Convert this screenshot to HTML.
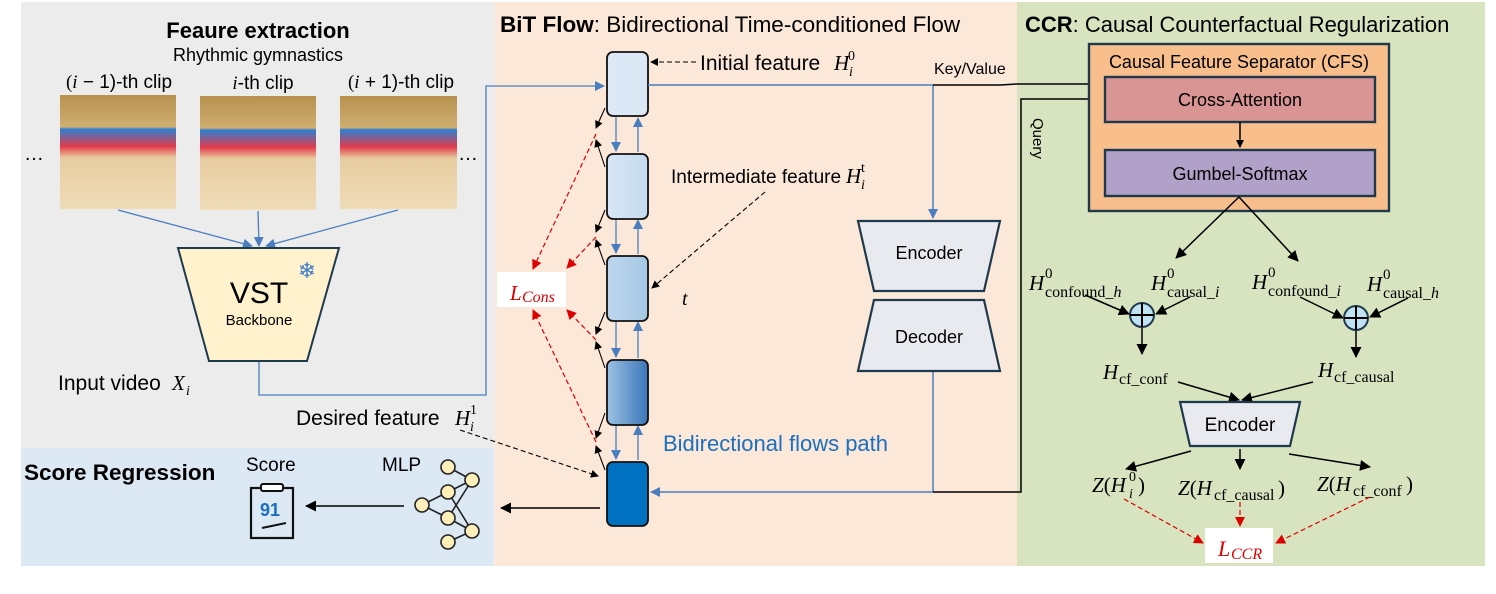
<!DOCTYPE html>
<html><head><meta charset="utf-8"><style>
body{margin:0;background:#fff;width:1496px;height:594px;overflow:hidden}
svg{display:block;font-family:"Liberation Sans",sans-serif}
.m{font-family:"Liberation Serif",serif;font-style:italic}
.s{font-family:"Liberation Serif",serif}
</style></head><body>
<svg width="1496" height="594" viewBox="0 0 1496 594">
<defs>
<marker id="ab" markerWidth="8" markerHeight="8" refX="7" refY="4" orient="auto" markerUnits="userSpaceOnUse"><path d="M0,0L8,4L0,8z" fill="#000"/></marker>
<marker id="abl" markerWidth="10" markerHeight="10" refX="9" refY="5" orient="auto" markerUnits="userSpaceOnUse"><path d="M0,0L10,5L0,10z" fill="#4a7ebf"/></marker>
<marker id="ar" markerWidth="10" markerHeight="10" refX="9" refY="5" orient="auto" markerUnits="userSpaceOnUse"><path d="M0,0L10,5L0,10z" fill="#d00"/></marker>
<marker id="ak" markerWidth="11" markerHeight="11" refX="10" refY="5.5" orient="auto" markerUnits="userSpaceOnUse"><path d="M0,0L11,5.5L0,11z" fill="#000"/></marker>
<linearGradient id="g1"><stop offset="0" stop-color="#dde9f6"/><stop offset="1" stop-color="#dbe7f4"/></linearGradient>
<linearGradient id="g2"><stop offset="0" stop-color="#d8e6f4"/><stop offset="1" stop-color="#c5daef"/></linearGradient>
<linearGradient id="g3"><stop offset="0" stop-color="#bdd6ee"/><stop offset="1" stop-color="#a6c8e6"/></linearGradient>
<linearGradient id="g4"><stop offset="0" stop-color="#9dc1e4"/><stop offset="1" stop-color="#3a76b8"/></linearGradient>
<linearGradient id="img" x1="0" y1="0" x2="0" y2="1"><stop offset="0" stop-color="#b8914e"/><stop offset=".28" stop-color="#cfae70"/><stop offset=".3" stop-color="#2e7fd0"/><stop offset=".45" stop-color="#e23a4a"/><stop offset=".55" stop-color="#e8cca0"/><stop offset="1" stop-color="#efdcb8"/></linearGradient>
</defs>
<rect x="21" y="2" width="474" height="564" fill="#ececec"/>
<rect x="21" y="448" width="472" height="118" fill="#dce8f4"/>
<rect x="495" y="2" width="522" height="564" fill="#fce8d8"/>
<rect x="1017" y="2" width="468" height="564" fill="#d8e4bf"/>
<!-- feature extraction -->
<text x="258" y="38" font-size="22" font-weight="bold" text-anchor="middle">Feaure extraction</text>
<text x="258" y="61" font-size="18" text-anchor="middle">Rhythmic gymnastics</text>
<text x="119" y="88" font-size="19" text-anchor="middle"><tspan class="s">(</tspan><tspan class="m">i</tspan> − 1)-th clip</text>
<text x="263" y="89" font-size="19" text-anchor="middle"><tspan class="m">i</tspan>-th clip</text>
<text x="401" y="88" font-size="19" text-anchor="middle"><tspan class="s">(</tspan><tspan class="m">i</tspan> + 1)-th clip</text>
<rect x="60" y="95" width="116" height="114" fill="url(#img)"/>
<rect x="200" y="96" width="116" height="114" fill="url(#img)"/>
<rect x="340" y="96" width="117" height="113" fill="url(#img)"/>
<text x="24" y="160" font-size="20">…</text>
<text x="458" y="160" font-size="20">…</text>
<g stroke="#4a7ebf" stroke-width="1.3" fill="none">
<line x1="118" y1="210" x2="252" y2="246" marker-end="url(#abl)"/>
<line x1="258" y1="211" x2="259" y2="246" marker-end="url(#abl)"/>
<line x1="398" y1="210" x2="266" y2="246" marker-end="url(#abl)"/>
<polyline points="259,362 259,395 486,395 486,86 604,86" marker-end="url(#abl)"/>
</g>
<polygon points="178,248 339,248 307,361 209,361" fill="#fff2cc" stroke="#1f3a4d" stroke-width="2"/>
<text x="259" y="303" font-size="30" text-anchor="middle">VST</text>
<text x="259" y="325" font-size="15" text-anchor="middle">Backbone</text>
<text x="307" y="278" font-size="22" fill="#3d7cc9" text-anchor="middle">❄</text>
<text x="58" y="390" font-size="21">Input video</text><text x="172" y="390" font-size="21" class="m">X</text><text x="186" y="395" font-size="14" class="m">i</text>
<text x="296" y="425" font-size="21">Desired feature</text><text x="455" y="425" font-size="21" class="m">H</text><text x="470" y="431" font-size="14" class="m">i</text><text x="470" y="414" font-size="14" class="s">1</text>
<!-- score regression -->
<text x="24" y="480" font-size="22.5" font-weight="bold">Score Regression</text>
<text x="246" y="471" font-size="19">Score</text>
<text x="382" y="471" font-size="19">MLP</text>
<rect x="251" y="488" width="42" height="50" fill="none" stroke="#111" stroke-width="2.2"/>
<rect x="261" y="484" width="22" height="7" rx="2" fill="#fff" stroke="#111" stroke-width="2"/>
<text x="270" y="516" font-size="18" font-weight="bold" fill="#1a6fc0" text-anchor="middle">91</text>
<line x1="262" y1="528" x2="286" y2="523" stroke="#111" stroke-width="2"/>
<line x1="404" y1="506" x2="306" y2="506" stroke="#000" stroke-width="1.5" marker-end="url(#ak)"/>
<g stroke="#222" stroke-width="1.6" fill="#fdeeba">
<line x1="448" y1="467" x2="472" y2="480"/><line x1="448" y1="492" x2="472" y2="480"/><line x1="448" y1="492" x2="472" y2="531"/><line x1="448" y1="518" x2="472" y2="480"/><line x1="448" y1="518" x2="472" y2="531"/><line x1="422" y1="505" x2="448" y2="492"/><line x1="422" y1="505" x2="448" y2="518"/><line x1="448" y1="542" x2="472" y2="531"/>
<circle cx="448" cy="467" r="7"/><circle cx="472" cy="480" r="7"/><circle cx="448" cy="492" r="7"/><circle cx="422" cy="505" r="7"/><circle cx="448" cy="518" r="7"/><circle cx="472" cy="531" r="7"/><circle cx="448" cy="542" r="7"/>
</g>
<!-- BiT flow -->
<text x="500" y="32" font-size="22.5"><tspan font-weight="bold">BiT Flow</tspan>: Bidirectional Time-conditioned Flow</text>
<g stroke="#4a7ebf" stroke-width="1.3">
<line x1="616" y1="117" x2="616" y2="151" marker-end="url(#abl)"/><line x1="638" y1="152" x2="638" y2="118" marker-end="url(#abl)"/>
<line x1="616" y1="219" x2="616" y2="253" marker-end="url(#abl)"/><line x1="638" y1="254" x2="638" y2="220" marker-end="url(#abl)"/>
<line x1="616" y1="321" x2="616" y2="357" marker-end="url(#abl)"/><line x1="638" y1="358" x2="638" y2="322" marker-end="url(#abl)"/>
<line x1="616" y1="425" x2="616" y2="459" marker-end="url(#abl)"/><line x1="638" y1="460" x2="638" y2="426" marker-end="url(#abl)"/>
</g>
<g stroke="#111" stroke-width="1.8">
<rect x="607" y="52" width="41" height="64" rx="6" fill="url(#g1)"/>
<rect x="607" y="154" width="41" height="65" rx="6" fill="url(#g2)"/>
<rect x="607" y="256" width="41" height="65" rx="6" fill="url(#g3)"/>
<rect x="607" y="360" width="41" height="65" rx="6" fill="url(#g4)"/>
<rect x="607" y="462" width="41" height="64" rx="6" fill="#0070c0"/>
</g>
<g stroke="#000" stroke-width="1.1" fill="none">
<line x1="605" y1="108" x2="596" y2="128" marker-end="url(#ab)"/><line x1="605" y1="167" x2="596" y2="140" marker-end="url(#ab)"/>
<line x1="605" y1="210" x2="596" y2="232" marker-end="url(#ab)"/><line x1="605" y1="265" x2="596" y2="240" marker-end="url(#ab)"/>
<line x1="605" y1="312" x2="596" y2="334" marker-end="url(#ab)"/><line x1="605" y1="368" x2="596" y2="342" marker-end="url(#ab)"/>
<line x1="605" y1="413" x2="596" y2="438" marker-end="url(#ab)"/><line x1="605" y1="470" x2="596" y2="446" marker-end="url(#ab)"/>
</g>
<g stroke="#d00" stroke-width="1.2" stroke-dasharray="5,3" fill="none">
<line x1="596" y1="134" x2="533" y2="269" marker-end="url(#ar)"/><line x1="596" y1="237" x2="567" y2="268" marker-end="url(#ar)"/>
<line x1="596" y1="340" x2="567" y2="310" marker-end="url(#ar)"/><line x1="596" y1="442" x2="533" y2="310" marker-end="url(#ar)"/>
</g>
<rect x="497" y="272" width="69" height="35" fill="#fff"/>
<text x="510" y="300" font-size="21" fill="#d00" class="m">L</text><text x="522" y="302" font-size="16" fill="#d00" class="m">Cons</text>
<g stroke="#000" stroke-width="1.1" stroke-dasharray="5,3" fill="none">
<line x1="696" y1="62" x2="651" y2="62" marker-end="url(#ab)"/>
<line x1="765" y1="192" x2="652" y2="288" marker-end="url(#ab)"/>
<line x1="460" y1="430" x2="598" y2="476" marker-end="url(#ab)"/>
</g>
<text x="700" y="70" font-size="21">Initial feature</text><text x="834" y="70" font-size="21" class="m">H</text><text x="849" y="76" font-size="14" class="m">i</text><text x="848" y="60" font-size="14" class="s">0</text>
<text x="671" y="183" font-size="19">Intermediate feature</text><text x="846" y="183" font-size="21" class="m">H</text><text x="861" y="189" font-size="14" class="m">i</text><text x="861" y="172" font-size="14" class="s">t</text>
<text x="682" y="305" font-size="20" class="m">t</text>
<text x="663" y="451" font-size="22" fill="#1a6fc0">Bidirectional flows path</text>
<line x1="600" y1="508" x2="501" y2="508" stroke="#000" stroke-width="1.5" marker-end="url(#ak)"/>
<text x="934" y="74" font-size="16">Key/Value</text>
<g stroke="#4a7ebf" stroke-width="1.5" fill="none">
<line x1="648" y1="85" x2="933" y2="85"/>
<line x1="933" y1="85" x2="933" y2="218" marker-end="url(#abl)"/>
<polyline points="933,362 933,492 651,492" marker-end="url(#abl)"/>
</g>
<polygon points="858,221 1000,221 984,291 874,291" fill="#e8eaf0" stroke="#1f3a4d" stroke-width="2.2"/>
<text x="929" y="259" font-size="18" text-anchor="middle">Encoder</text>
<polygon points="874,300 984,300 1000,371 858,371" fill="#e8eaf0" stroke="#1f3a4d" stroke-width="2.2"/>
<text x="929" y="343" font-size="18" text-anchor="middle">Decoder</text>
<!-- CCR -->
<g stroke="#000" stroke-width="1.5" fill="none">
<polyline points="933,85 1000,85 1017,84 1102,84" marker-end="url(#ak)"/>
<polyline points="933,492 1021,492 1021,99 1102,99" marker-end="url(#ak)"/>
</g>
<text x="1025" y="32" font-size="22"><tspan font-weight="bold">CCR</tspan>: Causal Counterfactual Regularization</text>
<text x="1033" y="118" font-size="15" transform="rotate(90 1033 118)">Query</text>
<rect x="1089" y="44" width="300" height="167" fill="#f8bf8c" stroke="#1f3a4d" stroke-width="2.4"/>
<text x="1239" y="68" font-size="18" text-anchor="middle">Causal Feature Separator (CFS)</text>
<rect x="1105" y="77" width="270" height="45" fill="#d99594" stroke="#1f3a4d" stroke-width="2.4"/>
<text x="1240" y="106" font-size="18" text-anchor="middle">Cross-Attention</text>
<line x1="1240" y1="122" x2="1240" y2="147" stroke="#000" stroke-width="1.5" marker-end="url(#ab)"/>
<rect x="1105" y="150" width="270" height="46" fill="#b1a0c7" stroke="#1f3a4d" stroke-width="2.4"/>
<text x="1240" y="180" font-size="18" text-anchor="middle">Gumbel-Softmax</text>
<g stroke="#000" stroke-width="1.5" fill="none">
<line x1="1239" y1="197" x2="1176" y2="258" marker-end="url(#ak)"/>
<line x1="1239" y1="197" x2="1298" y2="261" marker-end="url(#ak)"/>
<line x1="1085" y1="295" x2="1129" y2="314" marker-end="url(#ak)"/>
<line x1="1190" y1="297" x2="1156" y2="314" marker-end="url(#ak)"/>
<line x1="1142" y1="328" x2="1142" y2="354" marker-end="url(#ak)"/>
<line x1="1300" y1="297" x2="1343" y2="318" marker-end="url(#ak)"/>
<line x1="1408" y1="298" x2="1370" y2="317" marker-end="url(#ak)"/>
<line x1="1356" y1="331" x2="1356" y2="357" marker-end="url(#ak)"/>
<line x1="1178" y1="382" x2="1239" y2="400" marker-end="url(#ak)"/>
<line x1="1313" y1="382" x2="1242" y2="400" marker-end="url(#ak)"/>
<line x1="1191" y1="451" x2="1126" y2="469" marker-end="url(#ak)"/>
<line x1="1240" y1="449" x2="1240" y2="469" marker-end="url(#ak)"/>
<line x1="1289" y1="454" x2="1370" y2="467" marker-end="url(#ak)"/>
</g>
<g stroke="#1f3a4d" stroke-width="2" fill="#bfe3f5">
<circle cx="1142" cy="315" r="12"/><circle cx="1356" cy="318" r="12"/>
</g>
<g stroke="#000" stroke-width="2"><line x1="1130" y1="315" x2="1154" y2="315"/><line x1="1142" y1="303" x2="1142" y2="327"/><line x1="1344" y1="318" x2="1368" y2="318"/><line x1="1356" y1="306" x2="1356" y2="330"/></g>
<g class="s">
<text x="1029" y="290" font-size="21" class="m">H</text><text x="1045" y="278" font-size="15">0</text><text x="1045" y="297" font-size="16">confound_<tspan font-style="italic">h</tspan></text>
<text x="1151" y="290" font-size="21" class="m">H</text><text x="1167" y="278" font-size="15">0</text><text x="1167" y="297" font-size="16">causal_<tspan font-style="italic">i</tspan></text>
<text x="1252" y="289" font-size="21" class="m">H</text><text x="1268" y="277" font-size="15">0</text><text x="1268" y="296" font-size="16">confound_<tspan font-style="italic">i</tspan></text>
<text x="1367" y="291" font-size="21" class="m">H</text><text x="1383" y="279" font-size="15">0</text><text x="1383" y="298" font-size="16">causal_<tspan font-style="italic">h</tspan></text>
<text x="1103" y="379" font-size="21" class="m">H</text><text x="1119" y="384" font-size="16">cf_conf</text>
<text x="1318" y="377" font-size="21" class="m">H</text><text x="1334" y="382" font-size="16">cf_causal</text>
<text x="1092" y="492" font-size="21"><tspan font-style="italic">Z</tspan>(<tspan font-style="italic">H</tspan></text><text x="1129" y="498" font-size="14" class="m">i</text><text x="1129" y="481" font-size="14">0</text><text x="1138" y="492" font-size="21">)</text>
<text x="1178" y="495" font-size="21"><tspan font-style="italic">Z</tspan>(<tspan font-style="italic">H</tspan></text><text x="1214" y="500" font-size="16">cf_causal</text><text x="1278" y="495" font-size="21">)</text>
<text x="1317" y="491" font-size="21"><tspan font-style="italic">Z</tspan>(<tspan font-style="italic">H</tspan></text><text x="1353" y="496" font-size="16">cf_conf</text><text x="1406" y="491" font-size="21">)</text>
</g>
<polygon points="1180,402 1300,402 1290,446 1190,446" fill="#e8eaf0" stroke="#1f3a4d" stroke-width="2.2"/>
<text x="1240" y="431" font-size="19" text-anchor="middle">Encoder</text>
<g stroke="#d00" stroke-width="1.2" stroke-dasharray="5,3" fill="none">
<line x1="1124" y1="499" x2="1203" y2="543" marker-end="url(#ar)"/>
<line x1="1240" y1="502" x2="1240" y2="526" marker-end="url(#ar)"/>
<line x1="1370" y1="497" x2="1276" y2="543" marker-end="url(#ar)"/>
</g>
<rect x="1205" y="528" width="68" height="35" fill="#fff"/>
<text x="1218" y="556" font-size="22" fill="#d00" class="m">L</text><text x="1231" y="559" font-size="16" fill="#d00" class="m">CCR</text>
</svg>
</body></html>
